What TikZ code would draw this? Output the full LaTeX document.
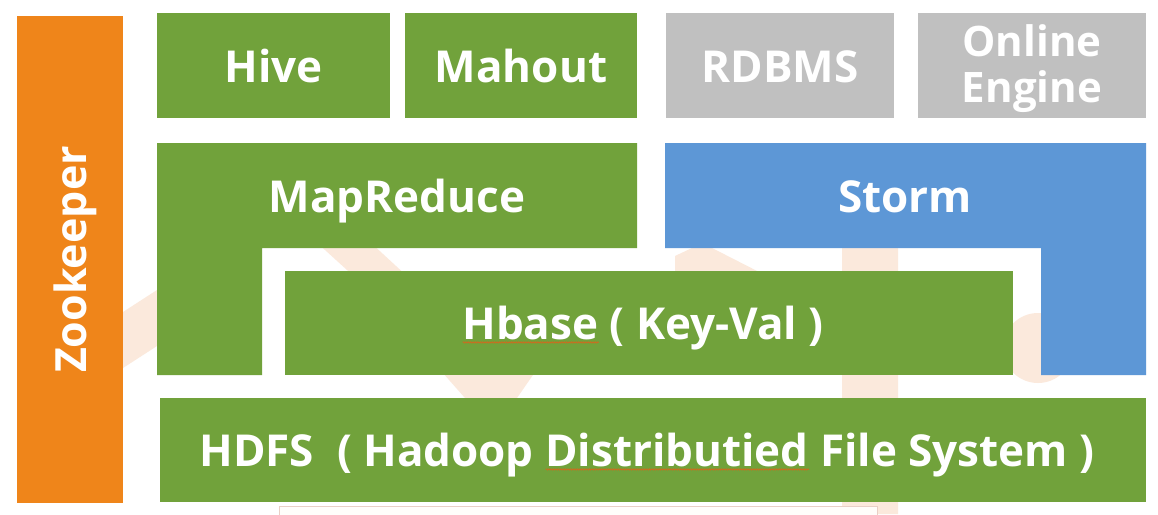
\documentclass[tikz,border=0pt]{standalone}
\usepackage{fontspec}
\setmainfont{Open Sans}
\usetikzlibrary{decorations.pathmorphing}
\definecolor{hgreen}{HTML}{71A23B}
\definecolor{zorange}{HTML}{EF851A}
\definecolor{sblue}{HTML}{5D97D6}
\definecolor{lgrey}{HTML}{C0C0C0}
\definecolor{wmark}{HTML}{FBE9DC}
\definecolor{sqcol}{HTML}{D2691E}
\newcommand\sqig[1]{\setbox0\hbox{#1}\rlap{\raisebox{-4pt}{\tikz[x=1pt,y=1pt]\draw[sqcol,line width=0.7pt,decorate,decoration={snake,amplitude=0.7pt,segment length=2.4pt}] (0,0)--(\wd0,0);}}\box0}
\tikzset{
  blk/.style={draw=none, inner sep=0pt, text=white, font=\bfseries\fontsize{44}{48}\selectfont, align=center, text height=33pt, text depth=0pt},
  lbl/.style={inner sep=0pt, text=white, font=\bfseries\fontsize{44}{48}\selectfont, text height=33pt, text depth=0pt},
}
\begin{document}
\begin{tikzpicture}[x=1pt,y=-1pt]
\useasboundingbox (0,0) rectangle (1158,514);
\fill[white] (0,0) rectangle (1158,514);
% faint watermark
\fill[wmark] (842,514) -- (842,158) arc[start angle=180,end angle=0,radius=28] -- (898,514) -- cycle;
\fill[wmark] (303,230) -- (357,230) -- (422,290) -- (369,290) -- cycle;
\fill[wmark] (675,275) -- (675,256) -- (692,248) -- (712,248) -- (765,275) -- cycle;
\fill[wmark] (123,312) -- (157,290) -- (157,346) -- (123,368) -- cycle;
\fill[wmark] (442,372) -- (535,372) -- (517,398) -- (465,398) -- cycle;
\fill[wmark] (1038,348) circle[radius=35];
% bottom partial box
\draw[draw={rgb,255:red,233;green,207;blue,198}, fill={rgb,255:red,255;green,253;blue,250}, line width=0.8pt] (279,506) rectangle (877,530);
% blocks
\node[blk, fill=zorange, rotate=90, minimum width=487pt, minimum height=106pt, font=\bfseries\fontsize{43}{46}\selectfont] (zk) at (70,259.5) {Zookeeper};
\node[blk, fill=hgreen, minimum width=233pt, minimum height=105pt] (hive) at (273.5,65.5) {Hive};
\node[blk, fill=hgreen, minimum width=232pt, minimum height=105pt] (mahout) at (521,65.5) {Mahout};
\node[blk, fill=lgrey, minimum width=228pt, minimum height=105pt] (rdbms) at (780,65.5) {RDBMS};
\node[draw=none, inner sep=0pt, fill=lgrey, minimum width=228pt, minimum height=105pt] (online) at (1032,65.5) {};
\node[inner sep=0pt, text=white, font=\bfseries\fontsize{42}{46}\selectfont, align=center] (onlinetxt) at ([yshift=-3pt]online.center) {Online\\Engine};
\fill[hgreen] (157,143) -- (637,143) -- (637,248) -- (262,248) -- (262,375) -- (157,375) -- cycle;
\node[lbl] (mr) at (397,195.5) {MapReduce};
\fill[sblue] (665,143) -- (1146,143) -- (1146,375) -- (1041,375) -- (1041,248) -- (665,248) -- cycle;
\node[lbl] (storm) at (905,195.5) {Storm};
\node[blk, fill=hgreen, minimum width=728pt, minimum height=104pt] (hbase) at (649,323) {};
\node[lbl] (hbasetxt) at ([xshift=-6pt]hbase.center) {\sqig{Hbase}\ ( Key-Val )};
\node[blk, fill=hgreen, minimum width=986pt, minimum height=104pt] (hdfs) at (653,450) {};
\node[lbl] (hdfstxt) at ([xshift=-6pt]hdfs.center) {HDFS \ ( Hadoop \sqig{Distributied}\ File System )};
\end{tikzpicture}
\end{document}
